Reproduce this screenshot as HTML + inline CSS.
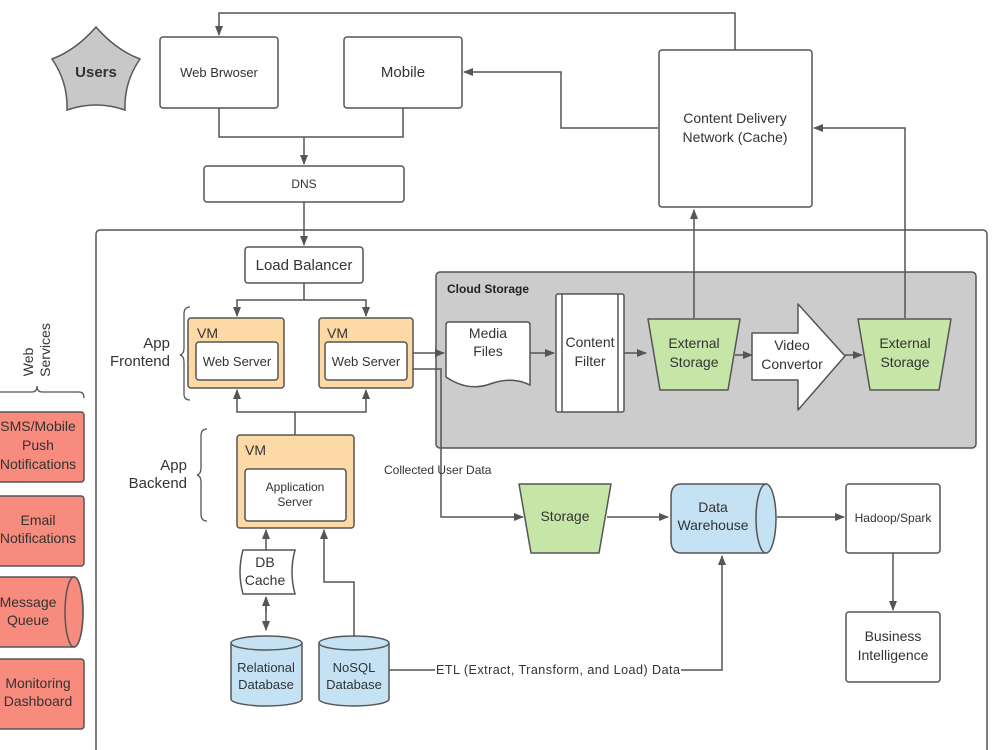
<!DOCTYPE html>
<html><head><meta charset="utf-8"><style>
html,body{margin:0;padding:0;background:#fff;}
svg{display:block;font-family:"Liberation Sans",Arial,sans-serif;}
</style></head><body>
<svg width="1000" height="750" viewBox="0 0 1000 750" xmlns="http://www.w3.org/2000/svg">
<defs>
<marker id="a" markerWidth="10" markerHeight="10" refX="9" refY="5" orient="auto" markerUnits="userSpaceOnUse">
<path d="M0,1 L10,5 L0,9 z" fill="#555"/></marker>
</defs>
<rect x="96" y="230" width="891" height="540" rx="4" fill="none" stroke="#555" stroke-width="1.5"/>
<!-- cloud storage bg -->
<rect x="436" y="272" width="540" height="176" rx="4" fill="#cccccc" stroke="#555" stroke-width="1.5"/>
<text x="447" y="293" font-size="12" font-weight="bold" fill="#222">Cloud Storage</text>
<g stroke="#555" stroke-width="1.5" fill="none">
<path d="M735,50 V13 H219 V35" marker-end="url(#a)"/>
<path d="M658,128 H561 V72 H464" marker-end="url(#a)"/>
<path d="M219,108 V137 H403 V108"/>
<path d="M304,137 V164" marker-end="url(#a)"/>
<path d="M304,202 V245" marker-end="url(#a)"/>
<path d="M694,318 V210" marker-end="url(#a)"/>
<path d="M905,318 V128 H814" marker-end="url(#a)"/>
<path d="M304,283 V300 H237 V316" marker-end="url(#a)"/>
<path d="M304,300 H366 V316" marker-end="url(#a)"/>
<path d="M295,435 V412 H237 V390" marker-end="url(#a)"/>
<path d="M295,412 H366 V390" marker-end="url(#a)"/>
<path d="M413,353 H444" marker-end="url(#a)"/>
<path d="M413,369 H441 V517 H523" marker-end="url(#a)"/>
<path d="M530,353 H554" marker-end="url(#a)"/>
<path d="M624,353 H646" marker-end="url(#a)"/>
<path d="M735,355 H752" marker-end="url(#a)"/>
<path d="M845,355 H862" marker-end="url(#a)"/>
<path d="M607,517 H668" marker-end="url(#a)"/>
<path d="M777,517 H844" marker-end="url(#a)"/>
<path d="M893,553 V610" marker-end="url(#a)"/>
<path d="M389,670 H722 V556" marker-end="url(#a)"/>
<path d="M266,550 V530" marker-end="url(#a)"/>
<path d="M266,612 V597" marker-end="url(#a)"/>
<path d="M266,600 V630" marker-end="url(#a)"/>
<path d="M354,636 V582 H324 V530" marker-end="url(#a)"/>
</g>
<!-- star -->
<path d="M96,27 Q116,50 140,59 Q124,82 125,110 Q96,100 67,110 Q68,82 52,59 Q76,50 96,27 z" fill="#c8c8c8" stroke="#555" stroke-width="1.5"/>
<text x="96" y="77" font-size="15" font-weight="bold" fill="#333" text-anchor="middle">Users</text>
<g stroke="#555" stroke-width="1.5" fill="#fff">
<rect x="160" y="37" width="118" height="71" rx="3"/>
<rect x="344" y="37" width="118" height="71" rx="3"/>
<rect x="204" y="166" width="200" height="36" rx="3"/>
<rect x="659" y="50" width="153" height="157" rx="3"/>
<rect x="245" y="247" width="118" height="36" rx="3"/>
<rect x="846" y="484" width="94" height="69" rx="3"/>
<rect x="846" y="612" width="94" height="70" rx="3"/>
</g>
<g fill="#333" text-anchor="middle">
<text x="219" y="77" font-size="13">Web Brwoser</text>
<text x="403" y="77" font-size="15">Mobile</text>
<text x="304" y="188" font-size="12">DNS</text>
<text x="735" y="123" font-size="14">Content Delivery</text>
<text x="735" y="142" font-size="14">Network (Cache)</text>
<text x="304" y="270" font-size="15">Load Balancer</text>
<text x="893" y="522" font-size="12">Hadoop/Spark</text>
<text x="893" y="641" font-size="14">Business</text>
<text x="893" y="660" font-size="14">Intelligence</text>
</g>
<g stroke="#555" stroke-width="1.5">
<rect x="188" y="318" width="96" height="70" rx="3" fill="#fdd9a6"/>
<rect x="196" y="342" width="82" height="38" rx="3" fill="#fff"/>
<rect x="319" y="318" width="94" height="70" rx="3" fill="#fdd9a6"/>
<rect x="325" y="342" width="82" height="38" rx="3" fill="#fff"/>
<rect x="237" y="435" width="117" height="93" rx="3" fill="#fdd9a6"/>
<rect x="245" y="469" width="101" height="52" rx="3" fill="#fff"/>
</g>
<g fill="#333" font-size="14">
<text x="197" y="338">VM</text>
<text x="327" y="338">VM</text>
<text x="245" y="455">VM</text>
</g>
<g fill="#333" text-anchor="middle" font-size="13">
<text x="237" y="366">Web Server</text>
<text x="366" y="366">Web Server</text>
<text x="295" y="491" font-size="12">Application</text>
<text x="295" y="506" font-size="12">Server</text>
</g>
<g stroke="#555" stroke-width="1.3" fill="none">
<path d="M190,307 Q184,307 184,314 V348 Q184,354 180,355 Q184,356 184,362 V394 Q184,400 190,400"/>
<path d="M207,429 Q201,429 201,436 V468 Q201,474 197,475 Q201,476 201,482 V514 Q201,521 207,521"/>
<path d="M0,392 H32 Q37,392 37,386 Q37,392 42,392 H79 Q84,392 84,398"/>
</g>
<g fill="#333" font-size="15" text-anchor="end">
<text x="170" y="348">App</text>
<text x="170" y="366">Frontend</text>
<text x="187" y="470">App</text>
<text x="187" y="488">Backend</text>
</g>
<!-- cloud inner shapes -->
<path d="M446,325 Q446,322 449,322 H527 Q530,322 530,325 V385 Q512,376 490,384 Q468,392 446,377 z" fill="#fff" stroke="#555" stroke-width="1.5"/>
<text x="488" y="338" font-size="14" fill="#333" text-anchor="middle">Media</text>
<text x="488" y="356" font-size="14" fill="#333" text-anchor="middle">Files</text>
<rect x="556" y="294" width="68" height="118" rx="2" fill="#fff" stroke="#555" stroke-width="1.5"/>
<path d="M562,294 V412 M618,294 V412" stroke="#555" stroke-width="1.5"/>
<text x="590" y="347" font-size="14" fill="#333" text-anchor="middle">Content</text>
<text x="590" y="366" font-size="14" fill="#333" text-anchor="middle">Filter</text>
<path d="M648,319 H740 L728,390 H660 z" fill="#c6e6a8" stroke="#555" stroke-width="1.5" stroke-linejoin="round"/>
<text x="694" y="348" font-size="14" fill="#333" text-anchor="middle">External</text>
<text x="694" y="367" font-size="14" fill="#333" text-anchor="middle">Storage</text>
<path d="M752,333 H798 V304 L845,356 L798,410 V380 H752 z" fill="#fff" stroke="#555" stroke-width="1.5" stroke-linejoin="round"/>
<text x="792" y="350" font-size="14" fill="#333" text-anchor="middle">Video</text>
<text x="792" y="369" font-size="14" fill="#333" text-anchor="middle">Convertor</text>
<path d="M858,319 H951 L939,390 H870 z" fill="#c6e6a8" stroke="#555" stroke-width="1.5" stroke-linejoin="round"/>
<text x="905" y="348" font-size="14" fill="#333" text-anchor="middle">External</text>
<text x="905" y="367" font-size="14" fill="#333" text-anchor="middle">Storage</text>
<!-- data -->
<text x="384" y="474" font-size="12" fill="#333">Collected User Data</text>
<path d="M519,484 H611 L599,553 H531 z" fill="#c6e6a8" stroke="#555" stroke-width="1.5" stroke-linejoin="round"/>
<text x="565" y="521" font-size="14" fill="#333" text-anchor="middle">Storage</text>
<path d="M681,484 H766 A10,35 0 0 1 766,553 H681 Q671,553 671,540 V497 Q671,484 681,484 z" fill="#c4e2f4" stroke="#555" stroke-width="1.5"/>
<ellipse cx="766" cy="518.5" rx="10" ry="34.5" fill="#c4e2f4" stroke="#555" stroke-width="1.5"/>
<text x="713" y="512" font-size="14" fill="#333" text-anchor="middle">Data</text>
<text x="713" y="530" font-size="14" fill="#333" text-anchor="middle">Warehouse</text>
<rect x="435" y="662" width="246" height="14" fill="#fff"/>
<text x="436" y="674" font-size="12.6" fill="#333" textLength="244">ETL (Extract, Transform, and Load) Data</text>
<path d="M243,550 H295 Q289,572 295,594 H243 Q237,572 243,550 z" fill="#fff" stroke="#555" stroke-width="1.5"/>
<text x="265" y="567" font-size="14" fill="#333" text-anchor="middle">DB</text>
<text x="265" y="585" font-size="14" fill="#333" text-anchor="middle">Cache</text>
<g stroke="#555" stroke-width="1.5" fill="#c4e2f4">
<path d="M231,643 V699 A35.5,7 0 0 0 302,699 V643"/>
<ellipse cx="266.5" cy="643" rx="35.5" ry="7"/>
<path d="M319,643 V699 A35,7 0 0 0 389,699 V643"/>
<ellipse cx="354" cy="643" rx="35" ry="7"/>
</g>
<g fill="#333" font-size="13" text-anchor="middle">
<text x="266" y="672">Relational</text>
<text x="266" y="689">Database</text>
<text x="354" y="672">NoSQL</text>
<text x="354" y="689">Database</text>
</g>
<g transform="translate(33,350) rotate(-90)" fill="#333" font-size="14" text-anchor="middle">
<text x="-12" y="0">Web</text>
<text x="0" y="17">Services</text>
</g>
<g stroke="#555" stroke-width="1.5" fill="#f68b7e">
<rect x="-10" y="412" width="94" height="70" rx="3"/>
<rect x="-10" y="496" width="94" height="70" rx="3"/>
<path d="M-10,577 H74 A9,35 0 0 1 74,647 H-10 z"/>
<ellipse cx="74" cy="612" rx="9" ry="35"/>
<rect x="-10" y="659" width="94" height="70" rx="3"/>
</g>
<g fill="#333" font-size="14" text-anchor="middle">
<text x="38" y="431">SMS/Mobile</text>
<text x="38" y="450">Push</text>
<text x="38" y="469">Notifications</text>
<text x="38" y="525">Email</text>
<text x="38" y="543">Notifications</text>
<text x="28" y="607">Message</text>
<text x="28" y="625">Queue</text>
<text x="38" y="688">Monitoring</text>
<text x="38" y="706">Dashboard</text>
</g>
</svg>
</body></html>
